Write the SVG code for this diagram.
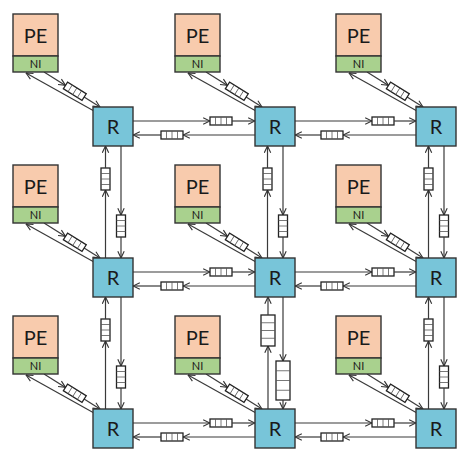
<svg xmlns="http://www.w3.org/2000/svg" xmlns:xlink="http://www.w3.org/1999/xlink" width="474" height="460" viewBox="0 0 474 460">
<style>
.pe{fill:#F8CBAD;stroke:#333;stroke-width:1.4}
.ni{fill:#A9D18E;stroke:#333;stroke-width:1.4}
.r{fill:#78C5D9;stroke:#333;stroke-width:1.4}
.t{font-family:Lato,"Liberation Sans",sans-serif;fill:#1a1a1a;text-anchor:middle}
.big{font-size:20px}
.sm{font-size:11px}
.ln{stroke:#3a3a3a;stroke-width:1.2;fill:none}
.ar{marker-end:url(#a)}
.bf{fill:#fff;stroke:#222;stroke-width:1.3}
.dv{stroke:#555;stroke-width:0.8}
</style>
<defs>
<marker id="a" viewBox="0 0 10 10" refX="9.5" refY="5" markerWidth="8" markerHeight="8" markerUnits="userSpaceOnUse" orient="auto"><path d="M1,1 L9.5,5 L1,9" fill="none" stroke="#333" stroke-width="1.4"/></marker>
<g id="bh"><rect class="bf" x="0" y="0" width="22" height="8"/><path class="dv" d="M5.5,0V8M11,0V8M16.5,0V8"/></g>
<g id="bv"><rect class="bf" x="0" y="0" width="9" height="22"/><path class="dv" d="M0,5.5H9M0,11H9M0,16.5H9"/></g>
<g id="diag">
<line class="ln ar" x1="44" y1="72" x2="65.5" y2="85.4"/>
<line class="ln ar" x1="84.1" y1="97.1" x2="100" y2="107"/>
<line class="ln ar" x1="94" y1="111" x2="26" y2="73"/>
<g transform="translate(74.8,91.25) rotate(32)"><rect class="bf" x="-11" y="-4" width="22" height="8"/><path class="dv" d="M-5.5,-4V4M0,-4V4M5.5,-4V4"/></g>
</g>
</defs>
<g id="connectors">
<use xlink:href="#diag"/>
<use xlink:href="#diag" x="162"/>
<use xlink:href="#diag" x="323"/>
<use xlink:href="#diag" y="151"/>
<use xlink:href="#diag" x="162" y="151"/>
<use xlink:href="#diag" x="323" y="151"/>
<use xlink:href="#diag" y="302"/>
<use xlink:href="#diag" x="162" y="302"/>
<use xlink:href="#diag" x="323" y="302"/>
<g id="h0">
<line class="ln ar" x1="133" y1="121" x2="210" y2="121"/><use xlink:href="#bh" x="210" y="117"/><line class="ln ar" x1="232" y1="121" x2="255" y2="121"/>
<line class="ln ar" x1="255" y1="135" x2="183" y2="135"/><use xlink:href="#bh" x="161" y="131"/><line class="ln ar" x1="161" y1="135" x2="133" y2="135"/>
<line class="ln ar" x1="295" y1="121" x2="372" y2="121"/><use xlink:href="#bh" x="372" y="117"/><line class="ln ar" x1="394" y1="121" x2="416" y2="121"/>
<line class="ln ar" x1="416" y1="135" x2="343" y2="135"/><use xlink:href="#bh" x="321" y="131"/><line class="ln ar" x1="321" y1="135" x2="295" y2="135"/>
</g>
<use xlink:href="#h0" y="151"/>
<use xlink:href="#h0" y="302"/>
<g id="v0">
<line class="ln ar" x1="105.5" y1="258" x2="105.5" y2="190"/><use xlink:href="#bv" x="101" y="168"/><line class="ln ar" x1="105.5" y1="168" x2="105.5" y2="146"/>
<line class="ln ar" x1="121" y1="146" x2="121" y2="215"/><use xlink:href="#bv" x="116.5" y="215"/><line class="ln ar" x1="121" y1="237" x2="121" y2="258"/>
</g>
<use xlink:href="#v0" x="162"/>
<use xlink:href="#v0" x="323"/>
<use xlink:href="#v0" y="151"/>
<use xlink:href="#v0" x="323" y="151"/>
<g id="vbig">
<line class="ln ar" x1="268" y1="409" x2="268" y2="346"/>
<rect class="bf" x="261" y="315" width="14" height="31"/><path class="dv" d="M261,322.75H275M261,330.5H275M261,338.25H275"/>
<line class="ln ar" x1="268" y1="315" x2="268" y2="297"/>
<line class="ln ar" x1="283" y1="297" x2="283" y2="361"/>
<rect class="bf" x="276" y="361" width="14" height="39"/><path class="dv" d="M276,370.75H290M276,380.5H290M276,390.25H290"/>
<line class="ln ar" x1="283" y1="400" x2="283" y2="409"/>
</g>
</g>
<g id="pe11"><rect class="pe" x="13" y="14" width="45" height="42"/><rect class="ni" x="13" y="56" width="45" height="16"/><text class="t big" x="35.5" y="43">PE</text><text class="t sm" x="35.5" y="68">NI</text></g>
<g id="pe12"><rect class="pe" x="175" y="14" width="45" height="42"/><rect class="ni" x="175" y="56" width="45" height="16"/><text class="t big" x="197.5" y="43">PE</text><text class="t sm" x="197.5" y="68">NI</text></g>
<g id="pe13"><rect class="pe" x="336" y="14" width="45" height="42"/><rect class="ni" x="336" y="56" width="45" height="16"/><text class="t big" x="358.5" y="43">PE</text><text class="t sm" x="358.5" y="68">NI</text></g>
<g id="pe21"><rect class="pe" x="13" y="165" width="45" height="42"/><rect class="ni" x="13" y="207" width="45" height="16"/><text class="t big" x="35.5" y="194">PE</text><text class="t sm" x="35.5" y="219">NI</text></g>
<g id="pe22"><rect class="pe" x="175" y="165" width="45" height="42"/><rect class="ni" x="175" y="207" width="45" height="16"/><text class="t big" x="197.5" y="194">PE</text><text class="t sm" x="197.5" y="219">NI</text></g>
<g id="pe23"><rect class="pe" x="336" y="165" width="45" height="42"/><rect class="ni" x="336" y="207" width="45" height="16"/><text class="t big" x="358.5" y="194">PE</text><text class="t sm" x="358.5" y="219">NI</text></g>
<g id="pe31"><rect class="pe" x="13" y="316" width="45" height="42"/><rect class="ni" x="13" y="358" width="45" height="16"/><text class="t big" x="35.5" y="345">PE</text><text class="t sm" x="35.5" y="370">NI</text></g>
<g id="pe32"><rect class="pe" x="175" y="316" width="45" height="42"/><rect class="ni" x="175" y="358" width="45" height="16"/><text class="t big" x="197.5" y="345">PE</text><text class="t sm" x="197.5" y="370">NI</text></g>
<g id="pe33"><rect class="pe" x="336" y="316" width="45" height="42"/><rect class="ni" x="336" y="358" width="45" height="16"/><text class="t big" x="358.5" y="345">PE</text><text class="t sm" x="358.5" y="370">NI</text></g>
<g id="r11"><rect class="r" x="93" y="107" width="40" height="39"/><text class="t big" x="113" y="134">R</text></g>
<g id="r12"><rect class="r" x="255" y="107" width="40" height="39"/><text class="t big" x="275" y="134">R</text></g>
<g id="r13"><rect class="r" x="416" y="107" width="40" height="39"/><text class="t big" x="436" y="134">R</text></g>
<g id="r21"><rect class="r" x="93" y="258" width="40" height="39"/><text class="t big" x="113" y="285">R</text></g>
<g id="r22"><rect class="r" x="255" y="258" width="40" height="39"/><text class="t big" x="275" y="285">R</text></g>
<g id="r23"><rect class="r" x="416" y="258" width="40" height="39"/><text class="t big" x="436" y="285">R</text></g>
<g id="r31"><rect class="r" x="93" y="409" width="40" height="39"/><text class="t big" x="113" y="436">R</text></g>
<g id="r32"><rect class="r" x="255" y="409" width="40" height="39"/><text class="t big" x="275" y="436">R</text></g>
<g id="r33"><rect class="r" x="416" y="409" width="40" height="39"/><text class="t big" x="436" y="436">R</text></g>
</svg>
